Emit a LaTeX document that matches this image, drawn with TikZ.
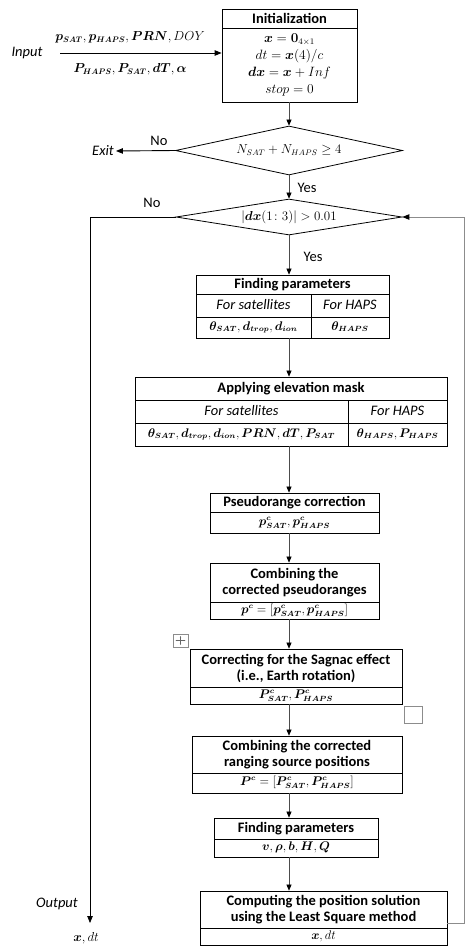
\RequirePackage{fix-cm}
\documentclass[tikz,border=0pt]{standalone}
\usepackage{amsmath,bm}
\usepackage{fontspec}
\setmainfont{Carlito}
\DeclareMathSizes{12.5}{12.5}{7.5}{6}
\DeclareMathSizes{13}{13}{8}{6}
\DeclareMathSizes{13.5}{13.5}{8.5}{6.5}
\usetikzlibrary{shapes.geometric,arrows.meta,calc}
\tikzset{
 fs/.style={font=\fontsize{14.5}{17}\selectfont},
 cell/.style={draw=black, line width=0.8pt, rectangle, inner sep=0pt, align=center, fs},
 ttl/.style={cell, font=\fontsize{14.5}{16}\selectfont\bfseries},
 sub/.style={cell, font=\fontsize{14.5}{17}\selectfont\itshape, text height=10pt, text depth=3pt},
 mcell/.style={cell, font=\fontsize{12.5}{15}\selectfont, text height=8pt, text depth=3pt},
 dec/.style={draw=black, shape=diamond, inner sep=0pt, line width=0.8pt, font=\fontsize{13}{15}\selectfont},
 conn/.style={draw=black!70, line width=0.6pt},
 arr/.style={conn, -{Triangle[length=6pt,width=5pt,black]}},
 barr/.style={draw=black, line width=0.9pt, -{Triangle[length=7pt,width=5.5pt]}},
 loopl/.style={draw=black!45, line width=0.9pt, -{Triangle[length=7pt,width=5.5pt,black]}},
 lbl/.style={fs, inner sep=0pt},
 mlbl/.style={font=\fontsize{13}{15}\selectfont, inner sep=0pt},
 ilbl/.style={font=\fontsize{14.5}{17}\selectfont\itshape, inner sep=0pt},
 artifact/.style={draw=black!45, line width=0.6pt, fill=white},
}
\begin{document}
\begin{tikzpicture}[x=1pt,y=-1pt]
\useasboundingbox (0,0) rectangle (474,951);
\coordinate (spine) at (289,0);

% Initialization
\node[ttl, minimum width=135, minimum height=19] (initt) at (289.5,18.5) {Initialization};
\node[cell, font=\fontsize{13.5}{17}\selectfont, minimum width=135, minimum height=74] (initb) at (289.5,65)
 {$\bm{x}=\bm{0}_{4\times1}$\\ $dt=\bm{x}(4)/c$\\ $\bm{dx}=\bm{x}+Inf$\\ $stop=0$};

% Input
\node[ilbl] (inp) at (27,53) {Input};
\coordinate (ain) at (60,53);
\node[mlbl] (inA) at (130,37) {$\bm{p}_{\bm{SAT}},\bm{p}_{\bm{HAPS}},\bm{PRN},DOY$};
\node[mlbl] (inB) at (130,69) {$\bm{P}_{\bm{HAPS}},\bm{P}_{\bm{SAT}},\bm{dT},\bm{\alpha}$};
\draw[barr] (ain) -- (ain -| initb.west);

% Decision 1
\node[dec, minimum width=227, minimum height=49, aspect=4.6] (d1) at (289,150.5) {$N_{SAT}+N_{HAPS}\geq 4$};
\node[ilbl, inner sep=2pt] (exit) at (103,151) {Exit};
\node[lbl] (no1) at (159,141) {No};
\node[lbl] (yes1) at (307,188) {Yes};
\draw[barr] (d1.west) -- (exit.east);

% Decision 2
\node[dec, minimum width=226, minimum height=36, aspect=6.3] (d2) at (289,217) {$|\bm{dx}(1\colon 3)|>0.01$};
\node[lbl] (no2) at (152,203) {No};
\node[lbl] (yes2) at (313,257) {Yes};

% Finding parameters 1
\node[ttl, minimum width=193, minimum height=19] (fp1t) at (292.5,284.5) {Finding parameters};
\node[sub, minimum width=115, minimum height=23] (fp1a) at (253.5,305.5) {For satellites};
\node[sub, minimum width=78, minimum height=23] (fp1b) at (350,305.5) {For HAPS};
\node[mcell, minimum width=115, minimum height=21] (fp1c) at (253.5,327.5) {$\bm{\theta}_{\bm{SAT}},\bm{d}_{\bm{trop}},\bm{d}_{\bm{ion}}$};
\node[mcell, minimum width=78, minimum height=21] (fp1d) at (350,327.5) {$\bm{\theta}_{\bm{HAPS}}$};

% Elevation mask
\node[ttl, minimum width=312, minimum height=23] (emt) at (291,388.5) {Applying elevation mask};
\node[sub, minimum width=213, minimum height=23] (ema) at (241.5,411.5) {For satellites};
\node[sub, minimum width=99, minimum height=23] (emb) at (397.5,411.5) {For HAPS};
\node[mcell, minimum width=213, minimum height=23] (emc) at (241.5,434.5) {$\bm{\theta}_{\bm{SAT}},\bm{d}_{\bm{trop}},\bm{d}_{\bm{ion}},\bm{PRN},\bm{dT},\bm{P}_{\bm{SAT}}$};
\node[mcell, minimum width=99, minimum height=23] (emd) at (397.5,434.5) {$\bm{\theta}_{\bm{HAPS}},\bm{P}_{\bm{HAPS}}$};

% Pseudorange correction
\node[ttl, minimum width=169, minimum height=19] (pct) at (294.5,502.5) {Pseudorange correction};
\node[mcell, minimum width=169, minimum height=21] (pcb) at (294.5,522.5) {$\bm{p}^{\bm{c}}_{\bm{SAT}},\bm{p}^{\bm{c}}_{\bm{HAPS}}$};

% Combining pseudoranges
\node[ttl, minimum width=169, minimum height=39] (cpt) at (294.5,582.5) {Combining the\\corrected pseudoranges};
\node[mcell, minimum width=169, minimum height=17] (cpb) at (294.5,610.5) {$\bm{p}^{\bm{c}}=[\bm{p}^{\bm{c}}_{\bm{SAT}},\bm{p}^{\bm{c}}_{\bm{HAPS}}]$};

% Sagnac
\node[ttl, minimum width=212, minimum height=38] (sgt) at (296,668) {Correcting for the Sagnac effect\\(i.e., Earth rotation)};
\node[mcell, minimum width=212, minimum height=17] (sgb) at (296,695.5) {$\bm{P}^{\bm{c}}_{\bm{SAT}},\bm{P}^{\bm{c}}_{\bm{HAPS}}$};

% Combining positions
\node[ttl, minimum width=210, minimum height=37] (crt) at (297,754.5) {Combining the corrected\\ranging source positions};
\node[mcell, minimum width=210, minimum height=20] (crb) at (297,783) {$\bm{P}^{\bm{c}}=[\bm{P}^{\bm{c}}_{\bm{SAT}},\bm{P}^{\bm{c}}_{\bm{HAPS}}]$};

% Finding parameters 2
\node[ttl, minimum width=164, minimum height=21] (fp2t) at (296,828.5) {Finding parameters};
\node[mcell, minimum width=164, minimum height=18] (fp2b) at (296,848) {$\bm{v},\bm{\rho},\bm{b},\bm{H},\bm{Q}$};

% Computing
\node[ttl, minimum width=247, minimum height=37] (cot) at (323.5,909.5) {Computing the position solution\\using the Least Square method};
\node[mcell, minimum width=247, minimum height=17] (cob) at (323.5,936.5) {$\bm{x},dt$};

% Output
\node[ilbl] (outl) at (57,904) {Output};
\node[mlbl] (outv) at (86,938) {$\bm{x},dt$};
\coordinate (outc) at (90,923);

% Editor artifacts shown in the picture
\draw[artifact] (173,634) rectangle (188,647);
\draw[black!60, line width=0.5pt, {Stealth[length=1.5pt]}-{Stealth[length=1.5pt]}] (175.5,640.5) -- (185.5,640.5);
\draw[black!60, line width=0.5pt, {Stealth[length=1.5pt]}-{Stealth[length=1.5pt]}] (180.5,636) -- (180.5,645);
\draw[artifact] (404,706) rectangle (422,723);

% Connectors
\draw[arr] (initb.south -| spine) -- (d1.north);
\draw[arr] (d1.south) -- (d2.north);
\draw[arr] (d2.south) -- (fp1t.north -| spine);
\draw[arr] (fp1c.south -| spine) -- (emt.north -| spine);
\draw[arr] (emc.south -| spine) -- (pct.north -| spine);
\draw[arr] (pcb.south -| spine) -- (cpt.north -| spine);
\draw[arr] (cpb.south -| spine) -- (sgt.north -| spine);
\draw[arr] (sgb.south -| spine) -- (crt.north -| spine);
\draw[arr] (crb.south -| spine) -- (fp2t.north -| spine);
\draw[arr] (fp2b.south -| spine) -- (cot.north -| spine);
\draw[barr, line width=0.8pt] (d2.west) -- (d2.west -| outc) -- (outc);
\coordinate (lp) at (464,923);
\draw[loopl] (cot.east |- lp) -- (lp) -- (lp |- d2.east) -- (d2.east);
\end{tikzpicture}
\end{document}
